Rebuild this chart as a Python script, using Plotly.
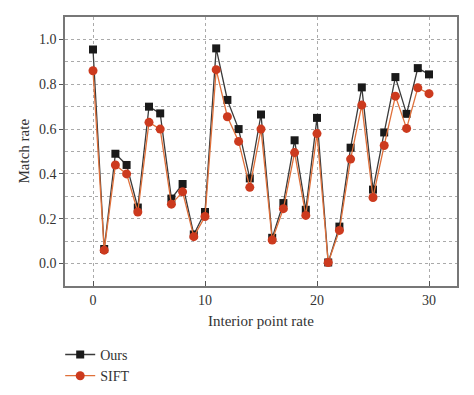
import plotly.graph_objects as go

x_vals = list(range(31))
ours = [0.955, 0.065, 0.49, 0.44, 0.25, 0.70, 0.67, 0.29, 0.355, 0.13, 0.23,
        0.96, 0.73, 0.60, 0.38, 0.665, 0.115, 0.27, 0.55, 0.24, 0.65,
        0.005, 0.165, 0.517, 0.786, 0.33, 0.585, 0.832, 0.668, 0.872, 0.844]
sift = [0.86, 0.06, 0.44, 0.40, 0.23, 0.63, 0.60, 0.265, 0.32, 0.12, 0.21,
        0.865, 0.655, 0.545, 0.34, 0.60, 0.105, 0.245, 0.495, 0.215, 0.58,
        0.005, 0.148, 0.466, 0.707, 0.295, 0.527, 0.747, 0.603, 0.784, 0.758]
x_ticks = [0, 10, 20, 30]
y_ticks = [0.0, 0.2, 0.4, 0.6, 0.8, 1.0]
x_title = "Interior point rate"
y_title = "Match rate"

FONT = "Liberation Serif"

fig = go.Figure()
fig.add_trace(go.Scatter(
    x=x_vals, y=ours, name="Ours", mode="lines+markers",
    line=dict(color="#3a3a3a", width=1.3),
    marker=dict(symbol="square", size=8, color="#1a1a1a"),
))
fig.add_trace(go.Scatter(
    x=x_vals, y=sift, name="SIFT", mode="lines+markers",
    line=dict(color="#e0703a", width=1.3),
    marker=dict(symbol="circle", size=9, color="#cc3a1e"),
))

fig.update_layout(
    width=474, height=395,
    margin=dict(l=65, r=17, t=17, b=109, autoexpand=False),
    paper_bgcolor="white", plot_bgcolor="white",
    font=dict(family=FONT, size=14, color="#333333"),
    legend=dict(x=0.127, y=0.142, xref="container", yref="container",
                xanchor="left", yanchor="top",
                bgcolor="rgba(0,0,0,0)", font=dict(family=FONT, size=14),
                tracegroupgap=0, itemwidth=30),
    showlegend=True,
    annotations=[
        dict(text=x_title, xref="paper", yref="paper", x=0.5, y=0,
             xanchor="center", yanchor="middle", yshift=-35, showarrow=False,
             font=dict(family=FONT, size=15, color="#333333")),
        dict(text=y_title, xref="paper", yref="paper", x=0, y=0.5,
             xanchor="center", yanchor="middle", xshift=-42, textangle=-90,
             showarrow=False, font=dict(family=FONT, size=15, color="#333333")),
    ],
)
fig.update_xaxes(
    range=[-2.5, 32.5], tickvals=x_ticks, ticktext=[str(v) for v in x_ticks],
    ticks="inside", ticklen=5, tickcolor="#555",
    showgrid=True, gridcolor="#aaaaaa", griddash="dot", gridwidth=1,
    showline=True, linecolor="#777", linewidth=1.5, mirror=True,
    zeroline=False,
    tickfont=dict(family=FONT, size=14),
)
fig.update_yaxes(
    range=[-0.1, 1.1], tickvals=y_ticks, ticktext=[f"{v:.1f}" for v in y_ticks],
    ticks="outside", ticklen=4, tickcolor="#555",
    showgrid=True, gridcolor="#aaaaaa", griddash="dot", gridwidth=1,
    minor=dict(dtick=0.1, showgrid=True, gridcolor="#aaaaaa", griddash="dot", gridwidth=1),
    showline=True, linecolor="#777", linewidth=1.5, mirror=True,
    zeroline=False,
    tickfont=dict(family=FONT, size=14),
)

fig.write_html("out.html")
